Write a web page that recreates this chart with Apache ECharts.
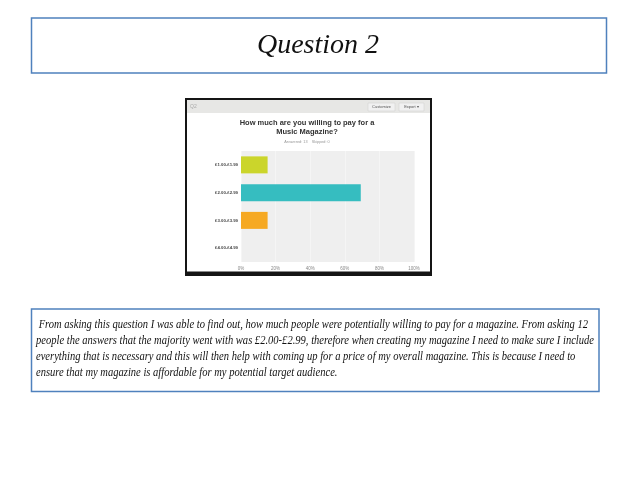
<!DOCTYPE html>
<html>
<head>
<meta charset="utf-8">
<script src="https://cdn.jsdelivr.net/npm/echarts@6/dist/echarts.min.js"></script>
<style>
  html, body { margin: 0; padding: 0; background: #fff; }
  #main { width: 638px; height: 478px; }
</style>
</head>
<body>
<div id="main"></div>
<script>
var myChart = echarts.init(document.getElementById('main'), null, {renderer: 'canvas'});

// survey data
var priceBands = ['£1.00-£1.99', '£2.00-£2.99', '£3.00-£3.99', '£4.00-£4.99'];
var percentValues = [15.38, 69.23, 15.38, 0];
var xTicks = [0, 20, 40, 60, 80, 100];

var slideTitle = 'Question 2';
var chartTitle = ['How much are you willing to pay for a', 'Music Magazine?'];
var chartSubtitle = 'Answered: 13    Skipped: 0';
var bodyLines = [
    ' From asking this question I was able to find out, how much people were potentially willing to pay for a magazine. From asking 12',
    'people the answers that the majority went with was £2.00-£2.99, therefore when creating my magazine I need to make sure I include',
    'everything that is necessary and this will then help with coming up for a price of my overall magazine. This is because I need to',
    'ensure that my magazine is affordable for my potential target audience.'
];

var barColors = ['#cbd52b', '#36bdc0', '#f6a923', '#9a9a9a'];
var blue = '#4f81bd';
var bodyFont = 'italic 12px "Liberation Serif"';

// squeeze the body text a bit, the original is a narrow script face
var ctx = document.createElement('canvas').getContext('2d');
ctx.font = bodyFont;
var lineWidths = bodyLines.map(function (s) { return ctx.measureText(s).width; });
var squeeze = 558 / lineWidths[1];

var graphics = [
    // title box
    {type: 'rect', z: -10, shape: {x: 31.5, y: 18, width: 575, height: 55},
        style: {fill: '#fff', stroke: blue, lineWidth: 1.5}},
    {type: 'text', z: -9, x: 318, y: 46,
        style: {text: slideTitle, fontSize: 28, fontStyle: 'italic', fontFamily: 'Liberation Serif',
            fill: '#111', align: 'center', verticalAlign: 'middle'}},
    // screenshot frame
    {type: 'rect', z: -10, shape: {x: 185, y: 98, width: 247, height: 178}, style: {fill: '#151515'}},
    {type: 'rect', z: -9, shape: {x: 187, y: 100, width: 243, height: 171.5}, style: {fill: '#fff'}},
    {type: 'rect', z: -8, shape: {x: 187, y: 100, width: 243, height: 13}, style: {fill: '#e7e7e5'}},
    {type: 'text', z: -7, x: 190, y: 106.5,
        style: {text: 'Q2', fontSize: 5, fill: '#aaa', verticalAlign: 'middle', fontFamily: 'Liberation Sans'}},
    {type: 'rect', z: -7, shape: {x: 368, y: 103, width: 27, height: 8},
        style: {fill: '#f1f1f1', stroke: '#cfcfcf', lineWidth: 0.5}},
    {type: 'text', z: -6, x: 381.5, y: 107,
        style: {text: 'Customize', fontSize: 4, fill: '#555', align: 'center', verticalAlign: 'middle', fontFamily: 'Liberation Sans'}},
    {type: 'rect', z: -7, shape: {x: 399, y: 103, width: 25, height: 8},
        style: {fill: '#f1f1f1', stroke: '#cfcfcf', lineWidth: 0.5}},
    {type: 'text', z: -6, x: 411.5, y: 107,
        style: {text: 'Export ▾', fontSize: 4, fill: '#555', align: 'center', verticalAlign: 'middle', fontFamily: 'Liberation Sans'}},
    {type: 'text', z: -6, x: 307, y: 123,
        style: {text: chartTitle[0], fontSize: 7.5, fontWeight: 'bold', fill: '#333', align: 'center', verticalAlign: 'middle', fontFamily: 'Liberation Sans'}},
    {type: 'text', z: -6, x: 307, y: 131.5,
        style: {text: chartTitle[1], fontSize: 7.5, fontWeight: 'bold', fill: '#333', align: 'center', verticalAlign: 'middle', fontFamily: 'Liberation Sans'}},
    {type: 'text', z: -6, x: 307, y: 141.5,
        style: {text: chartSubtitle, fontSize: 3.8, fill: '#999', align: 'center', verticalAlign: 'middle', fontFamily: 'Liberation Sans'}},
    // text box
    {type: 'rect', z: -10, shape: {x: 31.5, y: 309, width: 567.5, height: 82.5},
        style: {fill: '#fff', stroke: blue, lineWidth: 1.5}}
];

bodyLines.forEach(function (line, i) {
    graphics.push({
        type: 'text', z: -6, x: 36, y: 325 + i * 15.8, scaleX: squeeze,
        style: {text: line, fontSize: 12, fontStyle: 'italic', fontFamily: 'Liberation Serif',
            fill: '#111', verticalAlign: 'middle'}
    });
});

option = {
    animation: false,
    backgroundColor: '#fff',
    graphic: graphics,
    grid: {
        left: 241,
        top: 151,
        width: 173,
        height: 111,
        show: true,
        backgroundColor: '#efefef',
        borderWidth: 0
    },
    xAxis: {
        type: 'value',
        min: xTicks[0],
        max: xTicks[xTicks.length - 1],
        interval: xTicks[1] - xTicks[0],
        axisLine: {show: false},
        axisTick: {show: false},
        axisLabel: {formatter: '{value}%', fontSize: 4.5, color: '#888', margin: 4, fontFamily: 'Liberation Sans'},
        splitLine: {lineStyle: {color: '#f5f5f5', width: 1}}
    },
    yAxis: {
        type: 'category',
        data: priceBands,
        inverse: true,
        axisLine: {show: false},
        axisTick: {show: false},
        axisLabel: {fontSize: 4.3, fontWeight: 'bold', color: '#444', margin: 3, fontFamily: 'Liberation Sans'}
    },
    series: [{
        type: 'bar',
        barWidth: 17,
        data: percentValues.map(function (v, i) {
            return {value: v, itemStyle: {color: barColors[i]}};
        })
    }]
};

myChart.setOption(option);
</script>
</body>
</html>
